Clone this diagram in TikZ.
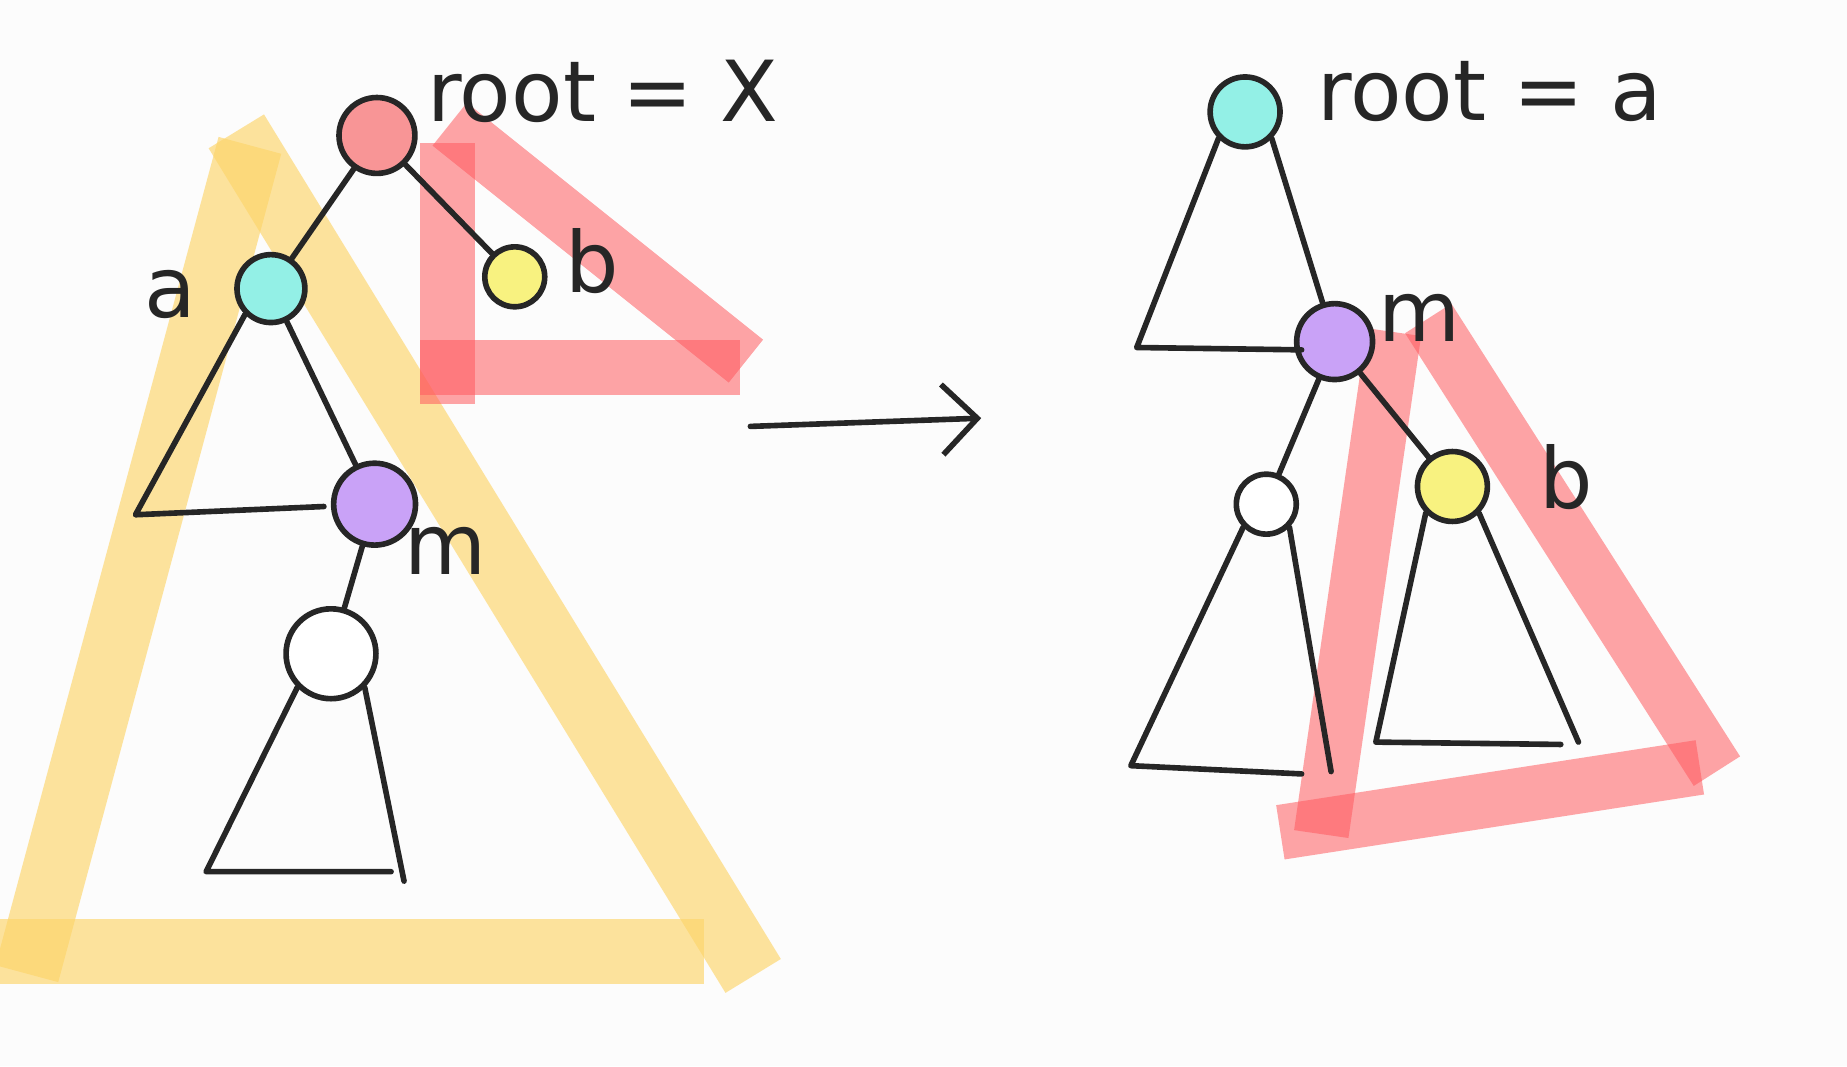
\documentclass[tikz,border=0pt]{standalone}
\usepackage{fontspec}
\setmainfont{DejaVu Sans}
\usetikzlibrary{arrows.meta}
\definecolor{cred}{HTML}{F89596}
\definecolor{hred}{HTML}{FF5A5F}
\definecolor{hyel}{HTML}{FCD56A}
\definecolor{ccyan}{HTML}{93F0E6}
\definecolor{cyel}{HTML}{F8F280}
\definecolor{cpur}{HTML}{C9A2F7}
\tikzset{
 ink/.style={line width=1.6pt,black!85,line cap=round,line join=round},
 nd/.style={circle,draw=black!85,line width=1.6pt,inner sep=0pt},
 hlY/.style={line width=0.65cm,hyel,opacity=0.65,line cap=rect},
 hlR/.style={line width=0.55cm,hred,opacity=0.55,line cap=rect},
 lab/.style={font=\fontsize{24}{26}\selectfont,black!85},
}
\begin{document}
\begin{tikzpicture}[x=0.0118cm,y=-0.0118cm]
\fill[white!98!gray] (0,0) rectangle (1568,905);
\useasboundingbox (0,0) rectangle (1568,905);
% left highlights
\draw[hlY] (205,150)--(30,800);
\draw[hlY] (215,135)--(625,805);
\draw[hlY] (15,808)--(570,808);
\draw[hlR] (380,145)--(380,320);
\draw[hlR] (380,312)--(605,312);
\draw[hlR] (400,120)--(615,292);
% left nodes
\node[nd,fill=cred,minimum size=0.76cm] (r) at (320,115) {};
\node[nd,fill=ccyan,minimum size=0.68cm] (a) at (230,245) {};
\node[nd,fill=cyel,minimum size=0.6cm] (b) at (437,235) {};
\node[nd,fill=cpur,minimum size=0.82cm] (m) at (318,428) {};
\node[nd,fill=white,minimum size=0.9cm] (w) at (281,555) {};
\node[lab,anchor=west] (lr) at (352,78) {root = X};
\node[lab] (la) at (145,250) {a};
\node[lab] (lb) at (503,222) {b};
\node[lab] (lm) at (378,468) {m};
\draw[ink] (r) -- (a);
\draw[ink] (r) -- (b);
\draw[ink] (a) -- (m);
\draw[ink] (a.south west) -- (115,437) -- (275,430);
\draw[ink] (m) -- (w);
\draw[ink] (w.south west) -- (175,740) -- (332,740);
\draw[ink] (w.south east) -- (343,748);
% arrow
\coordinate (A1) at (637,362); \coordinate (A2) at (833,355);
\draw[ink,-{Straight Barb[length=10pt,width=20pt]}] (A1) -- (A2);
% right highlights
\draw[hlR] (1180,305)--(1125,685);
\draw[hlR] (1225,290)--(1445,635);
\draw[hlR] (1110,703)--(1420,655);
% right nodes
\node[nd,fill=ccyan,minimum size=0.7cm] (r2) at (1057,95) {};
\node[nd,fill=cpur,minimum size=0.76cm] (m2) at (1133,290) {};
\node[nd,fill=white,minimum size=0.6cm] (w2) at (1075,428) {};
\node[nd,fill=cyel,minimum size=0.7cm] (b2) at (1233,413) {};
\node[lab,anchor=west] (lr2) at (1108,78) {root = a};
\node[lab] (lm2) at (1205,270) {m};
\node[lab] (lb2) at (1330,405) {b};
\draw[ink] (r2.south west) -- (965,295) -- (1105,297);
\draw[ink] (r2.south east) -- (m2);
\draw[ink] (m2) -- (w2);
\draw[ink] (m2) -- (b2);
\draw[ink] (w2.south west) -- (960,650) -- (1105,657);
\draw[ink] (w2.south east) -- (1130,655);
\draw[ink] (b2.south west) -- (1168,630) -- (1325,632);
\draw[ink] (b2.south east) -- (1340,630);
\end{tikzpicture}
\end{document}
